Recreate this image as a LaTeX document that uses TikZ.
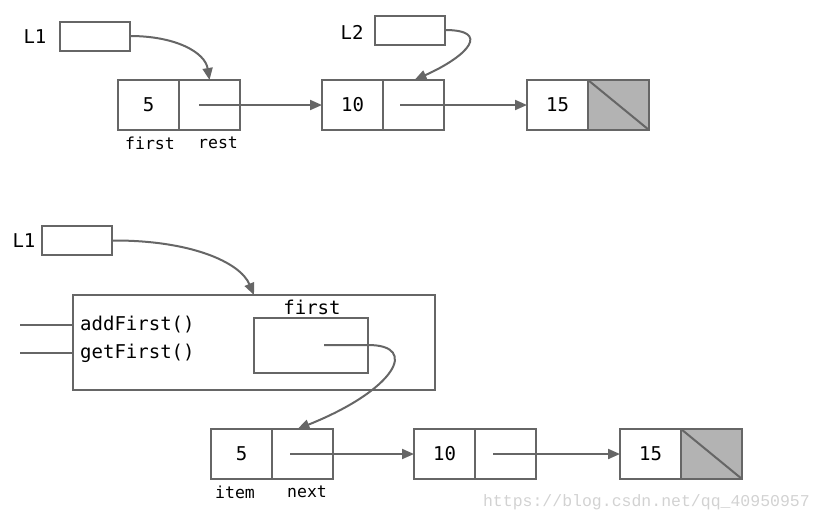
\documentclass[tikz,border=0pt]{standalone}
\usepackage{fontspec}
\setmonofont{DejaVu Sans Mono}
\usetikzlibrary{arrows.meta}
\definecolor{ln}{HTML}{666666}
\definecolor{nul}{HTML}{B3B3B3}
\definecolor{wm}{HTML}{D2D2D2}
\newfontfamily\wmfont{Liberation Mono}
\begin{document}
\begin{tikzpicture}[x=1pt,y=-1pt,
  font=\ttfamily\fontsize{19}{21}\selectfont,
  cell/.style={draw=ln,line width=2pt,minimum width=61pt,minimum height=50pt,inner sep=0pt,outer sep=0pt},
  ref/.style={draw=ln,line width=2pt,minimum width=70pt,minimum height=29pt,inner sep=0pt,outer sep=0pt},
  nullcell/.style={cell,fill=nul},
  ptr/.style={draw=ln,line width=2pt,-{Triangle[length=12pt,width=10pt]}},
  plain/.style={draw=ln,line width=2pt},
  small/.style={font=\ttfamily\fontsize{16.5}{18}\selectfont,inner sep=0pt},
  txt/.style={inner sep=0pt}]
\useasboundingbox (0,0) rectangle (821,523);

% ---------- top diagram ----------
\node[txt] (l1lab) at (35,37) {L1};
\node[ref] (l1) at (95,36) {};
\node[cell] (a1) at (148.5,105) {5};
\node[cell] (a2) at (209.5,105) {};
\node[small] (fl) at (150,143) {first};
\node[small] (rl) at (218,143) {rest};

\node[txt] (l2lab) at (352,32) {L2};
\node[ref] (l2) at (410,30) {};
\node[cell] (b1) at (352.5,105) {10};
\node[cell] (b2) at (413.5,105) {};

\node[cell] (c1) at (557.5,105) {15};
\node[nullcell] (c2) at (618.5,105) {};
\draw[plain] (c2.north west) -- (c2.south east);

\draw[ptr] (l1.east) .. controls (175,36) and (205,52) .. (a2.north);
\draw[ptr] (l2.east) .. controls (490,30) and (470,55) .. ([xshift=1pt]b2.north);
\draw[ptr] ([xshift=-10.5pt]a2.center) -- (b1.west);
\draw[ptr] ([xshift=-13.5pt]b2.center) -- (c1.west);

% ---------- bottom diagram ----------
\node[txt] (m1lab) at (24,241) {L1};
\node[ref] (m1) at (77,240.5) {};
\node[draw=ln,line width=2pt,minimum width=362pt,minimum height=95pt,inner sep=0pt,outer sep=0pt] (obj) at (254,342.5) {};
\node[txt] (fst) at (312,307) {first};
\node[draw=ln,line width=2pt,minimum width=114pt,minimum height=55pt,inner sep=0pt,outer sep=0pt] (fbox) at (311,345.5) {};
\node[txt,anchor=west] (add) at (80,325) {addFirst()};
\node[txt,anchor=west] (get) at (80,353) {getFirst()};
\coordinate (ea) at (20,325);
\coordinate (eg) at (20,353);
\draw[plain] (ea) -- (obj.west |- ea);
\draw[plain] (eg) -- (obj.west |- eg);

\node[cell] (p1) at (241.5,454) {5};
\node[cell] (p2) at (302.5,454) {};
\node[small] (il) at (235,492) {item};
\node[small] (nl) at (307,492) {next};
\node[cell] (q1) at (444.5,454) {10};
\node[cell] (q2) at (505.5,454) {};
\node[cell] (r1) at (650.5,454) {15};
\node[nullcell] (r2) at (711.5,454) {};
\draw[plain] (r2.north west) -- (r2.south east);

\coordinate (fs) at (324,345);
\draw[ptr] (m1.east) .. controls (190,240) and (240,262) .. (obj.north -| fbox.west);
\draw[ptr] (fs) -- (fbox.east |- fs) .. controls (420,345) and (395,390) .. ([xshift=-5pt]p2.north);
\draw[ptr] ([xshift=-12.5pt]p2.center) -- (q1.west);
\draw[ptr] ([xshift=-12.5pt]q2.center) -- (r1.west);

\node[txt,anchor=east,text=wm,font=\wmfont\fontsize{16.5}{18}\selectfont] (wmk) at (810,502) {https://blog.csdn.net/qq\_40950957};
\end{tikzpicture}
\end{document}
